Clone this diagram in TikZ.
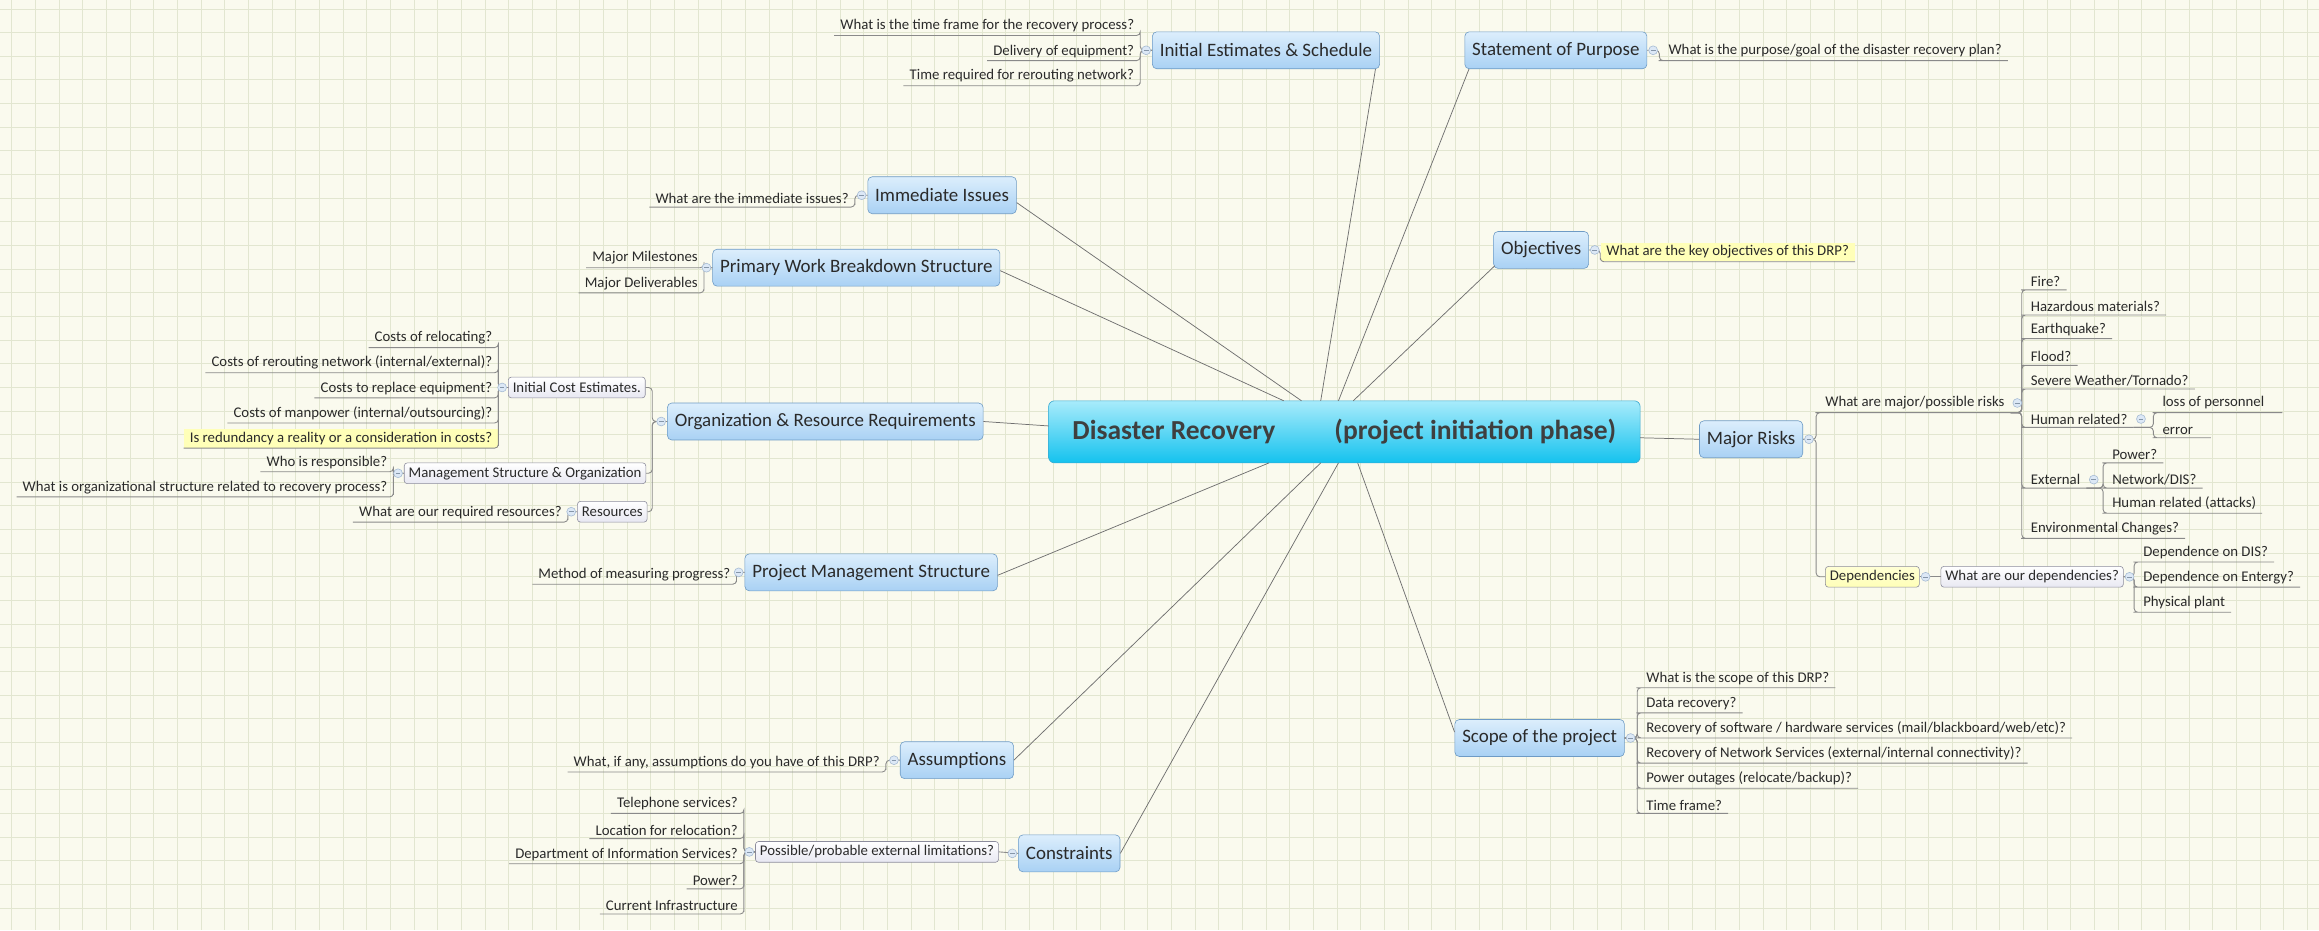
\documentclass[tikz,border=0pt]{standalone}
\usepackage{fontspec}
\setmainfont{Carlito}
\definecolor{bgc}{HTML}{FAFAEE}
\definecolor{gridc}{HTML}{E2E6D0}
\definecolor{lnc}{HTML}{8A8A8A}
\definecolor{spc}{HTML}{707070}
\definecolor{tpd}{HTML}{6E9BC5}
\definecolor{tpt}{HTML}{DCEEFC}
\definecolor{tpb}{HTML}{A9D1F4}
\definecolor{cnt}{HTML}{A8EBFB}
\definecolor{cnb}{HTML}{14C2EE}
\definecolor{cnd}{HTML}{3AA9CF}
\definecolor{sbd}{HTML}{8C8C9C}
\definecolor{sbb}{HTML}{E8E8F2}
\definecolor{hly}{HTML}{FFFFB8}
\definecolor{txc}{HTML}{2A2A2A}
\definecolor{knd}{HTML}{A6BBD3}
\definecolor{knf}{HTML}{DCE8F6}
\tikzset{
 topic/.style={draw=tpd, rounded corners=3pt, top color=tpt, bottom color=tpb, font=\fontsize{12.8}{14}\selectfont, text=txc, minimum height=25pt, inner xsep=5pt},
 ctr/.style={draw=cnd, rounded corners=4pt, top color=cnt, bottom color=cnb, font=\fontsize{18.6}{21}\selectfont\bfseries, text=txc!90, minimum width=400pt, minimum height=42pt},
 sub/.style={draw=sbd, rounded corners=2pt, top color=white, bottom color=sbb, font=\fontsize{10}{11}\selectfont, text=txc, minimum height=14pt, inner xsep=3pt, inner ysep=1pt},
 subhl/.style={sub, top color=hly!60, bottom color=hly},
 leaf/.style={font=\fontsize{10}{11}\selectfont, text=txc, inner xsep=4pt, inner ysep=2pt},
 hl/.style={fill=hly},
 conn/.style={draw=lnc, line width=0.6pt, rounded corners=2.5pt},
 spoke/.style={draw=spc, line width=0.5pt},
 knob/.style={circle, draw=knd, fill=knf, inner sep=0pt, minimum size=6pt,
   path picture={\draw[knd!80!black, line width=0.4pt] ([xshift=-1.6pt]path picture bounding box.center) -- ([xshift=1.6pt]path picture bounding box.center);}}
}
\begin{document}
\begin{tikzpicture}[x=1pt,y=-1pt]
\useasboundingbox (0,0) rectangle (1568,629);
\fill[bgc] (0,0) rectangle (1568,629);
\foreach \x in {8,24,...,1568} \draw[gridc,line width=0.5pt] (\x,0) -- (\x,629);
\foreach \y in {6,22,...,629} \draw[gridc,line width=0.5pt] (0,\y) -- (1568,\y);

% center
\node[ctr] (cen) at (909,292) {Disaster Recovery\hspace{40pt}(project initiation phase)};

% topics
\node[topic] (ies) at (856,34) {Initial Estimates \& Schedule};
\node[topic] (sop) at (1052,34) {Statement of Purpose};
\node[topic] (imm) at (637,132) {Immediate Issues};
\node[topic] (wbs) at (579,181) {Primary Work Breakdown Structure};
\node[topic] (obj) at (1042,169) {Objectives};
\node[topic] (org) at (558,285) {Organization \& Resource Requirements};
\node[topic] (mr) at (1184,297) {Major Risks};
\node[topic] (pms) at (589,387) {Project Management Structure};
\node[topic] (scope) at (1041,499) {Scope of the project};
\node[topic] (ass) at (647,514) {Assumptions};
\node[topic] (con) at (723,577) {Constraints};

% spokes
\coordinate (c1) at (893,271); \coordinate (c2) at (905,271);
\coordinate (c3) at (880,271); \coordinate (c4) at (868,271);
\coordinate (c5) at (915,271); \coordinate (c6) at (709,288);
\coordinate (c7) at (1109,296); \coordinate (c8) at (858,313);
\coordinate (c9) at (893,313); \coordinate (c10) at (905,313);
\coordinate (c11) at (918,313);
\draw[spoke] ([xshift=-3pt]ies.south east) -- (c1);
\draw[spoke] ([xshift=3pt]sop.south west) -- (c2);
\draw[spoke] ([yshift=-5pt]imm.east) -- (c3);
\draw[spoke] ([yshift=-2pt]wbs.east) -- (c4);
\draw[spoke] ([xshift=1pt,yshift=2pt]obj.south west) -- (c5);
\draw[spoke] (org.east) -- (c6);
\draw[spoke] (mr.west) -- (c7);
\draw[spoke] ([yshift=-2pt]pms.east) -- (c8);
\draw[spoke] (ass.east) -- (c9);
\draw[spoke] (con.east) -- (c10);
\draw[spoke] ([yshift=4pt]scope.west) -- (c11);

% Initial Estimates
\node[leaf,anchor=south east] (a1) at (771,24) {What is the time frame for the recovery process?};
\node[leaf,anchor=south east] (a2) at (771,41) {Delivery of equipment?};
\node[leaf,anchor=south east] (a3) at (771,58) {Time required for rerouting network?};
\foreach \l in {a1,a2,a3} \draw[conn] (ies.west) -- (771,34) |- (\l.south east) -- (\l.south west);

% Statement of purpose
\node[leaf,anchor=south west] (b1) at (1124,41) {What is the purpose/goal of the disaster recovery plan?};
\draw[conn] (sop.east) -- (1122,34) |- (b1.south west) -- (b1.south east);

% Immediate
\node[leaf,anchor=south east] (d1) at (578,140) {What are the immediate issues?};
\draw[conn] (imm.west) -- (578,132) |- (d1.south east) -- (d1.south west);

% WBS
\node[leaf,anchor=south east] (e1) at (476,181) {Major Milestones};
\node[leaf,anchor=south east] (e2) at (476,198) {Major Deliverables};
\foreach \l in {e1,e2} \draw[conn] (wbs.west) -- (476,181) |- (\l.south east) -- (\l.south west);

% Objectives
\node[leaf,hl,anchor=south west] (f1) at (1082,177) {What are the key objectives of this DRP?};
\draw[conn] (obj.east) -- (1082,169) |- (f1.south west) -- (f1.south east);

% Organization
\node[sub] (ice) at (390,262) {Initial Cost Estimates.};
\node[sub] (mso) at (355,320) {Management Structure \& Organization};
\node[sub] (res) at (414,346) {Resources};
\foreach \l in {ice,mso,res} \draw[conn] (org.west) -- (441,285) |- (\l.east);
\node[leaf,anchor=south east] (g1) at (337,235) {Costs of relocating?};
\node[leaf,anchor=south east] (g2) at (337,252) {Costs of rerouting network (internal/external)?};
\node[leaf,anchor=south east] (g3) at (337,269) {Costs to replace equipment?};
\node[leaf,anchor=south east] (g4) at (337,286) {Costs of manpower (internal/outsourcing)?};
\node[leaf,hl,anchor=south east] (g5) at (337,303) {Is redundancy a reality or a consideration in costs?};
\foreach \l in {g1,g2,g3,g4,g5} \draw[conn] (ice.west) -- (337,262) |- (\l.south east) -- (\l.south west);
\node[leaf,anchor=south east] (h1) at (266,319) {Who is responsible?};
\node[leaf,anchor=south east] (h2) at (266,336) {What is organizational structure related to recovery process?};
\foreach \l in {h1,h2} \draw[conn] (mso.west) -- (266,320) |- (\l.south east) -- (\l.south west);
\node[leaf,anchor=south east] (i1) at (384,353) {What are our required resources?};
\draw[conn] (res.west) -- (384,346) |- (i1.south east) -- (i1.south west);

% Major Risks
\node[leaf,anchor=south west] (wr) at (1230,279) {What are major/possible risks};
\node[subhl] (dep) at (1266,390) {Dependencies};
\node[sub] (wad) at (1374,390) {What are our dependencies?};
\draw[conn] (mr.east) -- (1228,297) |- (wr.south west) -- (wr.south east);
\draw[conn] (mr.east) -- (1228,297) |- (dep.west);
\draw[conn] (dep.east) -- (wad.west);
\coordinate (rb) at (1367,279);
\node[leaf,anchor=south west] (r1) at (1369,196) {Fire?};
\node[leaf,anchor=south west] (r2) at (1369,213) {Hazardous materials?};
\node[leaf,anchor=south west] (r3) at (1369,229) {Earthquake?};
\node[leaf,anchor=south west] (r4) at (1369,247) {Flood?};
\node[leaf,anchor=south west] (r5) at (1369,263) {Severe Weather/Tornado?};
\node[leaf,anchor=south west] (hum) at (1369,289) {Human related?};
\node[leaf,anchor=south west] (ext) at (1369,330) {External};
\node[leaf,anchor=south west] (r8) at (1369,364) {Environmental Changes?};
\foreach \l in {r1,r2,r3,r4,r5,hum,ext,r8} \draw[conn] (wr.south east) -- (rb) |- (\l.south west) -- (\l.south east);
\node[leaf,anchor=south west] (hu1) at (1458,279) {loss of personnel};
\node[leaf,anchor=south west] (hu2) at (1458,296) {error};
\foreach \l in {hu1,hu2} \draw[conn] (hum.south east) -- (1456,289) |- (\l.south west) -- ([xshift=8pt]\l.south east);
\node[leaf,anchor=south west] (ex1) at (1424,313) {Power?};
\node[leaf,anchor=south west] (ex2) at (1424,330) {Network/DIS?};
\node[leaf,anchor=south west] (ex3) at (1424,347) {Human related (attacks)};
\foreach \l in {ex1,ex2,ex3} \draw[conn] (ext.south east) -- (1422,330) |- (\l.south west) -- (\l.south east);
\node[leaf,anchor=south west] (dp1) at (1445,380) {Dependence on DIS?};
\node[leaf,anchor=south west] (dp2) at (1445,397) {Dependence on Entergy?};
\node[leaf,anchor=south west] (dp3) at (1445,414) {Physical plant};
\foreach \l in {dp1,dp2,dp3} \draw[conn] (wad.east) -- (1443,390) |- (\l.south west) -- (\l.south east);

% Project Management Structure
\node[leaf,anchor=south east] (p1) at (498,395) {Method of measuring progress?};
\draw[conn] (pms.west) -- (498,387) |- (p1.south east) -- (p1.south west);

% Scope
\node[leaf,anchor=south west] (s1) at (1109,465) {What is the scope of this DRP?};
\node[leaf,anchor=south west] (s2) at (1109,482) {Data recovery?};
\node[leaf,anchor=south west] (s3) at (1109,499) {Recovery of software / hardware services (mail/blackboard/web/etc)?};
\node[leaf,anchor=south west] (s4) at (1109,516) {Recovery of Network Services (external/internal connectivity)?};
\node[leaf,anchor=south west] (s5) at (1109,533) {Power outages (relocate/backup)?};
\node[leaf,anchor=south west] (s6) at (1109,550) {Time frame?};
\foreach \l in {s1,s2,s3,s4,s5,s6} \draw[conn] (scope.east) -- (1107,499) |- (\l.south west) -- (\l.south east);

% Assumptions
\node[leaf,anchor=south east] (as1) at (599,522) {What, if any, assumptions do you have of this DRP?};
\draw[conn] (ass.west) -- (599,514) |- (as1.south east) -- (as1.south west);

% Constraints
\node[sub] (pel) at (593,576) {Possible/probable external limitations?};
\draw[conn] (con.west) -- (pel.east);
\node[leaf,anchor=south east] (k1) at (503,550) {Telephone services?};
\node[leaf,anchor=south east] (k2) at (503,567) {Location for relocation?};
\node[leaf,anchor=south east] (k3) at (503,584) {Department of Information Services?};
\node[leaf,anchor=south east] (k4) at (503,601) {Power?};
\node[leaf,anchor=south east] (k5) at (503,618) {Current Infrastructure};
\foreach \l in {k1,k2,k3,k4,k5} \draw[conn] (pel.west) -- (503,576) |- (\l.south east) -- (\l.south west);

% knobs
\foreach \n in {ies,imm,wbs,org,ice,mso,res,pms,ass,con,pel}
  \node[knob] at ([xshift=-4pt]\n.west) {};
\foreach \n in {sop,obj,mr,scope,dep,wad}
  \node[knob] at ([xshift=4pt]\n.east) {};
\node[knob] at ([xshift=-3pt]rb |- wr.center) {};
\node[knob] at ([xshift=5pt]hum.east) {};
\node[knob] at ([xshift=5pt]ext.east) {};
\end{tikzpicture}
\end{document}
